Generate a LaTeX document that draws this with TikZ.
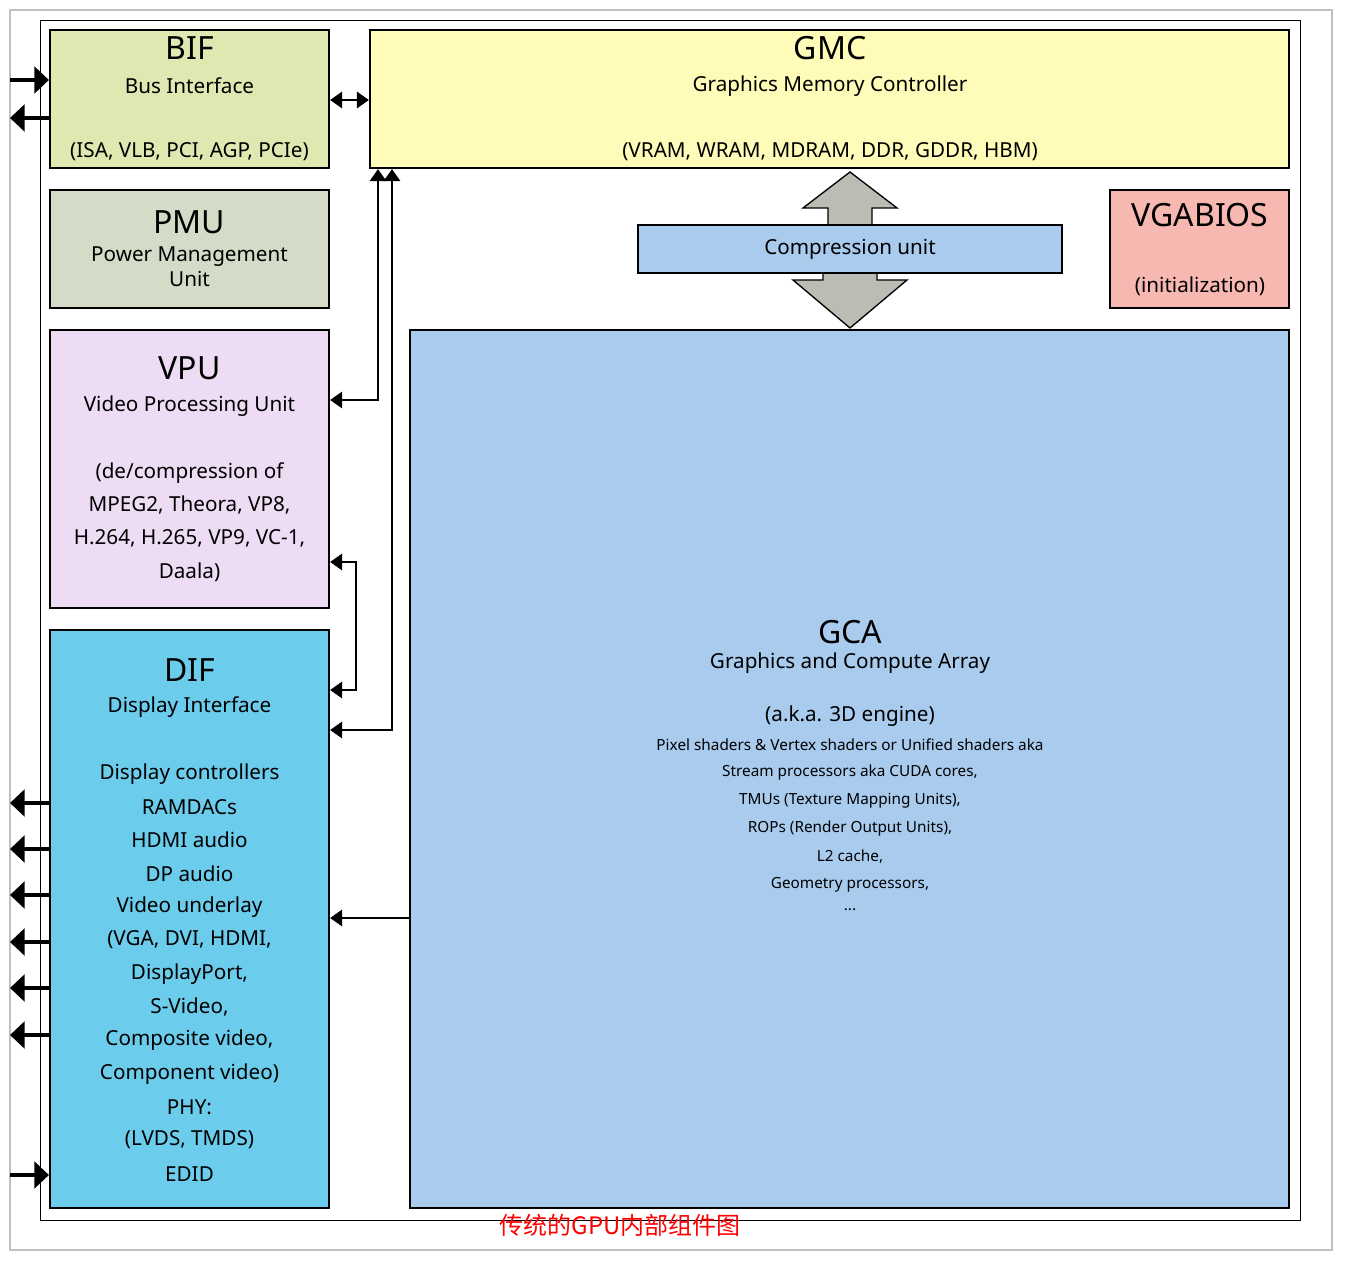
\documentclass[tikz,border=0pt]{standalone}
\usepackage{fontspec}
\setmainfont{Noto Sans}
\newfontfamily\cjk{Noto Sans CJK SC}
\usetikzlibrary{arrows.meta}
\definecolor{bifc}{HTML}{DEE8B0}
\definecolor{pmuc}{HTML}{D4DCC8}
\definecolor{vpuc}{HTML}{EEDCF4}
\definecolor{difc}{HTML}{6CCCEC}
\definecolor{gmcc}{HTML}{FFFBB8}
\definecolor{biosc}{HTML}{F7B8B2}
\definecolor{gcac}{HTML}{A9CBEE}
\definecolor{arrc}{HTML}{BBBDB5}
\begin{document}
\begin{tikzpicture}[x=0.75pt,y=-0.75pt,
  box/.style={draw=black,line width=1.6pt,inner sep=0pt},
  ttl/.style={font=\fontsize{24}{28}\selectfont\bfseries},
  sub/.style={font=\fontsize{15.5}{19}\selectfont\bfseries,align=center},
  txt/.style={font=\fontsize{15.5}{19}\selectfont,align=center},
  sml/.style={font=\fontsize{11.5}{14}\selectfont},
  big/.style={line width=3pt,-{Triangle[length=11pt,width=20pt]}},
  bigb/.style={line width=3pt,{Triangle[length=11pt,width=20pt]}-{Triangle[length=11pt,width=20pt]}},
  thin/.style={line width=2.2pt,-{Triangle[length=9pt,width=12pt]}},
  thinb/.style={line width=2.2pt,{Triangle[length=9pt,width=12pt]}-{Triangle[length=9pt,width=12pt]}}]
\useasboundingbox (0,0) rectangle (1350,1269);
\draw[gray!50,line width=1pt] (10,10) rectangle (1332,1250);
\draw[black,line width=0.6pt] (40,20) rectangle (1300,1220);
% boxes
\node[box,fill=bifc,minimum width=279*0.75pt,minimum height=138*0.75pt] (bif) at (189.5,99) {};
\node[box,fill=pmuc,minimum width=279*0.75pt,minimum height=118*0.75pt] (pmu) at (189.5,249) {};
\node[box,fill=vpuc,minimum width=279*0.75pt,minimum height=278*0.75pt] (vpu) at (189.5,469) {};
\node[box,fill=difc,minimum width=279*0.75pt,minimum height=578*0.75pt] (dif) at (189.5,919) {};
\node[box,fill=gmcc,minimum width=919*0.75pt,minimum height=138*0.75pt] (gmc) at (829.5,99) {};
\node[box,fill=biosc,minimum width=179*0.75pt,minimum height=118*0.75pt] (bios) at (1199.5,249) {};
\node[box,fill=gcac,minimum width=879*0.75pt,minimum height=878*0.75pt] (gca) at (849.5,769) {};
% compression arrows
\draw[fill=arrc,line width=1pt] (850,172) -- (897,208) -- (872,208) -- (872,226) -- (828,226) -- (828,208) -- (803,208) -- cycle;
\draw[fill=arrc,line width=1pt] (850,328) -- (907,280) -- (877,280) -- (877,272) -- (823,272) -- (823,280) -- (793,280) -- cycle;
\node[box,fill=gcac,minimum width=424*0.75pt,minimum height=48*0.75pt,font=\fontsize{15.5}{19}\selectfont\bfseries] (comp) at (850,249) {Compression unit};
% texts
\node[ttl] (t1) at (189.5,48) {BIF};
\node[sub] (t2) at (189.5,86) {Bus Interface};
\node[txt] (t3) at (189.5,152) {(ISA, VLB, PCI, AGP, PCIe)};
\node[ttl] (t4) at (830,48) {GMC};
\node[sub] (t5) at (830,86) {Graphics Memory Controller};
\node[txt] (t6) at (830,152) {(VRAM, WRAM, MDRAM, DDR, GDDR, HBM)};
\node[ttl] (t7) at (189.5,222) {PMU};
\node[sub,font=\fontsize{15.5}{19}\selectfont\bfseries] (t8) at (189.5,267) {Power Management\\Unit};
\node[ttl] (t9) at (1200,215) {VGABIOS};
\node[txt] (t10) at (1200,286) {(initialization)};
\node[ttl] (t11) at (189.5,368) {VPU};
\node[sub] (t12) at (189.5,406) {Video Processing Unit};
\node[txt,font=\fontsize{15.5}{25}\selectfont] (t13) at (189.5,522) {(de/compression of\\MPEG2, Theora, VP8,\\H.264, H.265, VP9, VC-1,\\Daala)};
\node[ttl] (t14) at (189.5,670) {DIF};
\node[sub] (t15) at (189.5,707) {Display Interface};
\node[sub] (d1) at (189.5,774) {Display controllers};
\node[sub] (d2) at (189.5,807) {RAMDACs};
\node[sub] (d3) at (189.5,840) {HDMI audio};
\node[sub] (d4) at (189.5,874) {DP audio};
\node[sub] (d5) at (189.5,907) {Video underlay};
\node[txt] (d6) at (189.5,940) {(VGA, DVI, HDMI,};
\node[txt] (d7) at (189.5,974) {DisplayPort,};
\node[txt] (d8) at (189.5,1007) {S-Video,};
\node[txt] (d9) at (189.5,1040) {Composite video,};
\node[txt] (d10) at (189.5,1074) {Component video)};
\node[sub] (d11) at (189.5,1107) {PHY:};
\node[txt] (d12) at (189.5,1140) {(LVDS, TMDS)};
\node[sub] (d13) at (189.5,1174) {EDID};
\node[ttl] (g1) at (850,632) {GCA};
\node[sub] (g2) at (850,663) {Graphics and Compute Array};
\node[txt] (g3) at (850,716) {(a.k.a. 3D engine)};
\node[sml] (g4) at (850,745) {Pixel shaders \& Vertex shaders or Unified shaders aka};
\node[sml] (g5) at (850,773) {Stream processors aka CUDA cores,};
\node[sml] (g6) at (850,801) {TMUs (Texture Mapping Units),};
\node[sml] (g7) at (850,829) {ROPs (Render Output Units),};
\node[sml] (g8) at (850,857) {L2 cache,};
\node[sml] (g9) at (850,885) {Geometry processors,};
\node[sml] (g10) at (850,910) {...};
\node[font=\cjk\fontsize{18}{20}\selectfont,text=red] (cap) at (620,1225) {传统的GPU内部组件图};
% connectors
\coordinate (bi1) at (10,80); \coordinate (bo1) at (10,118);
\draw[big] (bi1) -- (bi1 -| bif.west);
\draw[big] (bo1 -| bif.west) -- (bo1);
\draw[thinb] (bif.east |- 0,100) -- (gmc.west |- 0,100);
\coordinate (c1) at (378,400); \coordinate (c2) at (392,730);
\draw[thinb] (gmc.south -| c1) -- (c1) -- (c1 -| vpu.east);
\draw[thinb] (gmc.south -| c2) -- (c2) -- (c2 -| dif.east);
\coordinate (c3) at (356,562); \coordinate (c4) at (356,690);
\draw[thinb] (c3 -| vpu.east) -- (c3) -- (c4) -- (c4 -| dif.east);
\coordinate (c5) at (410,918);
\draw[thin] (c5) -- (c5 -| dif.east);
\foreach \y in {803,849,895,942,988,1035} \draw[big] (50,\y) -- (10,\y);
\coordinate (ed) at (10,1175);
\draw[big] (ed) -- (ed -| dif.west);
\end{tikzpicture}
\end{document}
